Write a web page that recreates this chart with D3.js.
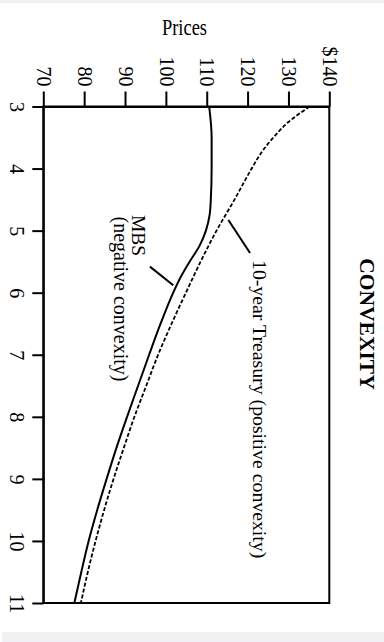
<!DOCTYPE html>
<html>
<head>
<meta charset="utf-8">
<script src="https://cdn.jsdelivr.net/npm/d3@7"></script>
<style>
  body { margin: 0; background: #fff; }
  svg { display: block; font-family: "Liberation Serif", "Times New Roman", serif; }
</style>
</head>
<body>
<div id="chart"></div>
<script>
// Price axis ticks (drawn along the top, the chart is turned a quarter clockwise)
const priceTicks = [70, 80, 90, 100, 110, 120, 130, 140];
const priceLabels = ["70", "80", "90", "100", "110", "120", "130", "$140"];

// Yield axis ticks (down the left side)
const yieldTicks = [3, 4, 5, 6, 7, 8, 9, 10, 11];

// MBS (negative convexity)
const mbsYields = [3, 3.5, 4, 4.5, 4.75, 5, 5.25, 5.5, 5.75, 6, 6.5, 7, 7.5, 8, 8.5, 9, 9.5, 10, 10.5, 11];
const mbsPrices = [110.6, 111.2, 111.2, 111.0, 110.7, 109.8, 108.2, 105.8, 103.6, 101.8, 98.7, 95.9, 93.2, 90.5, 87.9, 85.5, 83.2, 81.1, 79.3, 77.6];

// 10-year Treasury (positive convexity)
const tsyYields = [3, 3.25, 3.5, 3.75, 4, 4.5, 5, 5.5, 6, 6.5, 7, 7.5, 8, 8.5, 9, 9.5, 10, 10.5, 11];
const tsyPrices = [135.2, 130.0, 126.3, 123.3, 121.0, 116.8, 112.4, 108.5, 104.9, 101.4, 98.1, 95.2, 92.3, 89.7, 87.2, 84.9, 82.8, 80.9, 79.2];

// leader lines for the labels, [price, yield]
const mbsLeader = [[96.1, 5.58], [101.8, 5.88]];
const tsyLeader = [[115.3, 4.83], [120.6, 5.36]];

const width = 384, height = 642;

const svg = d3.select("#chart")
  .append("svg")
  .attr("width", width)
  .attr("height", height);

svg.append("rect").attr("width", width).attr("height", height).attr("fill", "#fff");
// light grey strips top and bottom
svg.append("rect").attr("x", 0).attr("y", 0).attr("width", width).attr("height", 3).attr("fill", "#f1f1f3");
svg.append("rect").attr("x", 2).attr("y", 632).attr("width", width - 2).attr("height", 10).attr("fill", "#f1f1f3");

const x = d3.scaleLinear().domain([70, 140]).range([43.3, 329.3]);
const y = d3.scaleLinear().domain([3, 11]).range([106.5, 603]);

// frame
svg.append("rect")
  .attr("x", x(70))
  .attr("y", y(3))
  .attr("width", x(140) - x(70))
  .attr("height", y(11) - y(3))
  .attr("fill", "none")
  .attr("stroke", "#000")
  .attr("stroke-width", 2);

// top axis (prices)
const topAxis = svg.append("g")
  .attr("transform", `translate(0,${y(3)})`)
  .call(d3.axisTop(x)
    .tickValues(priceTicks)
    .tickSize(15)
    .tickSizeOuter(0)
    .tickFormat((d, i) => priceLabels[i]));

topAxis.selectAll("path, line").attr("stroke", "#000").attr("stroke-width", 2);
topAxis.selectAll("text")
  .attr("x", 0)
  .attr("y", 0)
  .attr("dy", "0.34em")
  .attr("transform", "translate(0,-20) rotate(90)")
  .attr("text-anchor", "end")
  .style("font-family", "Liberation Serif")
  .style("font-size", "20px")
  .attr("fill", "#000");

// left axis (yields)
const leftAxis = svg.append("g")
  .attr("transform", `translate(${x(70)},0)`)
  .call(d3.axisLeft(y)
    .tickValues(yieldTicks)
    .tickSize(11)
    .tickSizeOuter(0));

leftAxis.selectAll("path, line").attr("stroke", "#000").attr("stroke-width", 2);
leftAxis.selectAll("text")
  .attr("x", 0)
  .attr("y", 0)
  .attr("dy", "0.34em")
  .attr("transform", "translate(-26.5,0) rotate(90)")
  .attr("text-anchor", "middle")
  .style("font-family", "Liberation Serif")
  .style("font-size", "20px")
  .attr("fill", "#000");

// curves
const line = d3.line()
  .x(d => x(d[0]))
  .y(d => y(d[1]))
  .curve(d3.curveMonotoneY);

const mbsData = mbsYields.map((v, i) => [mbsPrices[i], v]);
const tsyData = tsyYields.map((v, i) => [tsyPrices[i], v]);

svg.append("path")
  .datum(tsyData)
  .attr("d", line)
  .attr("fill", "none")
  .attr("stroke", "#000")
  .attr("stroke-width", 1.8)
  .attr("stroke-dasharray", "4,2");

svg.append("path")
  .datum(mbsData)
  .attr("d", line)
  .attr("fill", "none")
  .attr("stroke", "#000")
  .attr("stroke-width", 2);

// leader lines
[mbsLeader, tsyLeader].forEach(seg => {
  svg.append("line")
    .attr("x1", x(seg[0][0])).attr("y1", y(seg[0][1]))
    .attr("x2", x(seg[1][0])).attr("y2", y(seg[1][1]))
    .attr("stroke", "#000")
    .attr("stroke-width", 2);
});

// rotated text helper
function rotText(px, py, txt, size, anchor, weight) {
  svg.append("text")
    .attr("transform", `translate(${px},${py}) rotate(90)`)
    .attr("text-anchor", anchor)
    .style("font-size", size + "px")
    .style("font-weight", weight || "normal")
    .attr("fill", "#000")
    .text(txt);
}

rotText(131.7, 215, "MBS", 19.5, "start");
rotText(114, 216.5, "(negative convexity)", 20, "start");
rotText(253, 260, "10-year Treasury (positive convexity)", 19.8, "start");
rotText(360, 324, "CONVEXITY", 21.5, "middle", "bold");

// axis title, tall narrow type
svg.append("text")
  .attr("x", 162)
  .attr("y", 35)
  .attr("textLength", 45)
  .attr("lengthAdjust", "spacingAndGlyphs")
  .style("font-size", "24px")
  .attr("fill", "#000")
  .text("Prices");
</script>
</body>
</html>
